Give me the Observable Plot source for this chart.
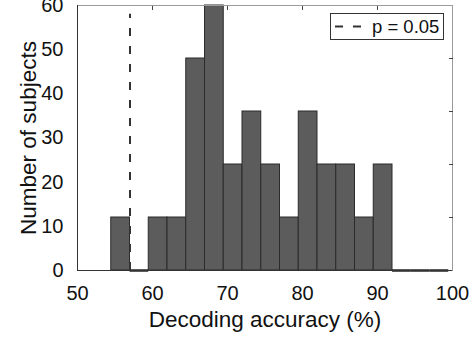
<!DOCTYPE html>
<html><head><meta charset="utf-8">
<script src="https://cdn.jsdelivr.net/npm/d3@7"></script>
<script src="https://cdn.jsdelivr.net/npm/@observablehq/plot@0.6"></script>
<style>
html,body{margin:0;padding:0;overflow:hidden;background:#fff;width:474px;height:348px}
#wrap{position:relative;width:474px;height:348px;overflow:hidden}
#caption{position:absolute;left:-6px;top:342.5px;font:bold 22px "Liberation Serif","DejaVu Serif",serif;color:#111;white-space:nowrap}
</style></head><body><div id="wrap"><div id="chart"></div><div id="caption">Histogram of the decoding accuracy across all subjects</div></div>
<script>
// Histogram bins (decoding accuracy, %) and counts
const binStart = [54.5, 57, 59.5, 62, 64.5, 67, 69.5, 72, 74.5, 77, 79.5, 82, 84.5, 87, 89.5, 92, 94.5, 97];
const binEnd   = [57, 59.5, 62, 64.5, 67, 69.5, 72, 74.5, 77, 79.5, 82, 84.5, 87, 89.5, 92, 94.5, 97, 99.5];
const counts   = [12, 0, 12, 12, 48, 60, 24, 36, 24, 12, 36, 24, 24, 12, 24, 0, 0, 0];
const threshold = [57];           // p = 0.05 level
const xTicks = [50, 60, 70, 80, 90, 100];
const yTicks = [0, 10, 20, 30, 40, 50, 60];
const topTicks = [60, 70, 80, 90];
const rightTicks = [12, 24, 36, 48];
const xTitle = "Decoding accuracy (%)";
const yTitle = "Number of subjects";
const legendLabel = "p = 0.05";

const bins = binStart.map((s, i) => ({x1: s, x2: binEnd[i], n: counts[i]}));
const font = "'Liberation Sans', Arial, Helvetica, sans-serif";

const plot = Plot.plot({
  width: 474, height: 348,
  marginLeft: 77, marginRight: 22, marginTop: 5, marginBottom: 78,
  style: {fontFamily: font, color: "#111", background: "#fff"},
  x: {domain: [50, 100]},
  y: {domain: [0, 60]},
  marks: [
    Plot.rectY(bins.filter(d => d.n > 0), {x1: "x1", x2: "x2", y: "n", fill: "#5c5c5c", stroke: "#2b2b2b", strokeWidth: 1}),
    Plot.ruleY(bins.filter(d => d.n === 0), {x1: "x1", x2: "x2", y: 0, stroke: "#262626", strokeWidth: 2.5}),
    Plot.frame({stroke: "#9a9a9a"}),
    Plot.ruleX([50], {stroke: "#333"}),
    Plot.ruleY([0], {stroke: "#333"}),
    Plot.ruleX(threshold, {y1: 0, y2: 58, stroke: "#333", strokeWidth: 2, strokeDasharray: "8,10"}),
    Plot.axisX(topTicks, {anchor: "top", tickSize: -4, tickFormat: () => "", label: null, stroke: "#444"}),
    Plot.axisY(rightTicks, {anchor: "right", tickSize: -4, tickFormat: () => "", label: null, stroke: "#444"}),
    Plot.axisX(xTicks, {anchor: "bottom", tickSize: 0, tickPadding: 15, fontSize: 20, label: null, fill: "#111"}),
    Plot.axisY(yTicks, {anchor: "left", tickSize: 0, tickPadding: 14, fontSize: 20, label: null, fill: "#111"}),
    Plot.text([xTitle], {frameAnchor: "bottom", dy: 49, lineAnchor: "middle", textAnchor: "middle", fontSize: 22.5, fill: "#111"}),
    Plot.text([yTitle], {frameAnchor: "left", dx: -49, rotate: -90, lineAnchor: "middle", textAnchor: "middle", fontSize: 22.5, fill: "#111"})
  ]
});
document.getElementById("chart").appendChild(plot);

// legend box (top right, inside the axes)
const svg = d3.select(plot);
const g = svg.append("g");
g.append("rect").attr("x", 330.5).attr("y", 13.5).attr("width", 113).attr("height", 26)
  .attr("fill", "#fff").attr("stroke", "#333").attr("stroke-width", 1);
g.append("line").attr("x1", 335).attr("x2", 361).attr("y1", 26.5).attr("y2", 26.5)
  .attr("stroke", "#333").attr("stroke-width", 2).attr("stroke-dasharray", "8,10");
g.append("text").attr("x", 372).attr("y", 33).attr("font-size", 18.5).attr("fill", "#111")
  .attr("text-anchor", "start").attr("font-family", font).text(legendLabel);
</script></body></html>
